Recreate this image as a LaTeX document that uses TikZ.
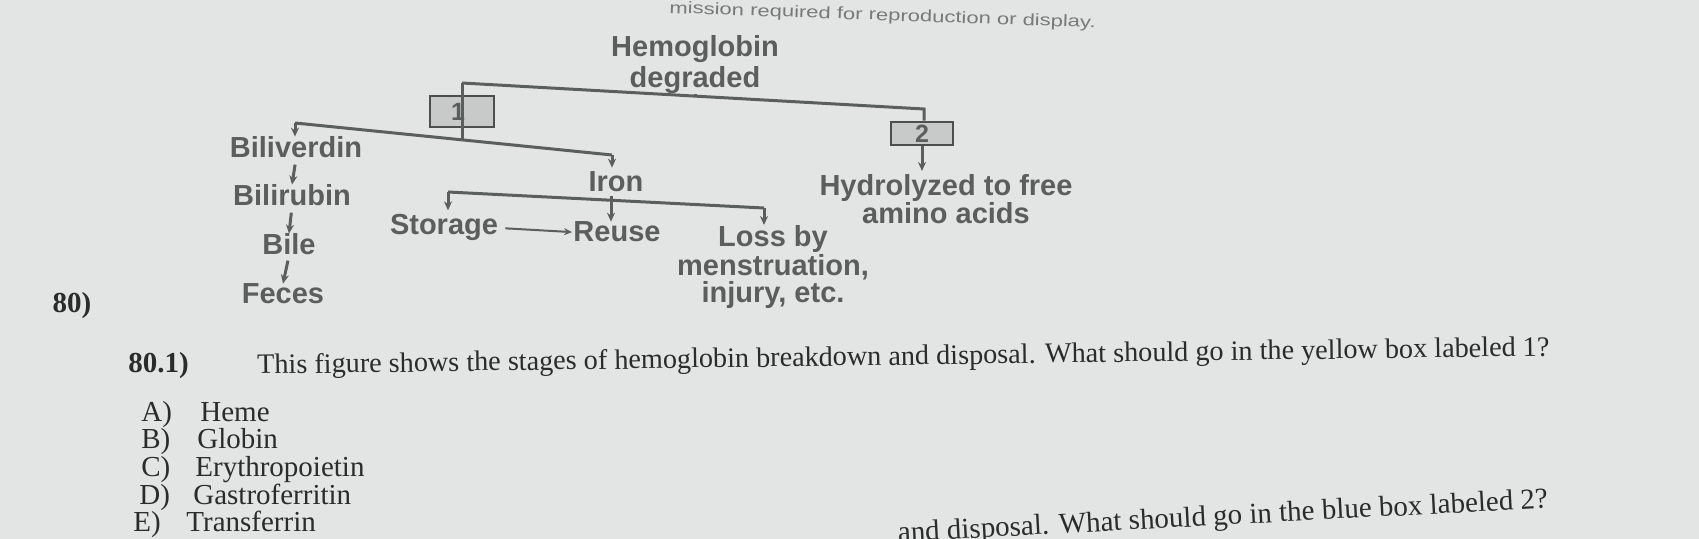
\documentclass[tikz,border=0pt]{standalone}
\usepackage{fontspec}
\setmainfont{Liberation Serif}
\newfontfamily\dsans{Liberation Sans}
\usetikzlibrary{arrows.meta}
\definecolor{bg}{HTML}{E2E5E3}
\definecolor{dgray}{HTML}{5A5E5D}
\definecolor{boxfill}{HTML}{C7CAC8}
\definecolor{boxline}{HTML}{4C4F4E}
\definecolor{qtext}{HTML}{2A2B2B}
\definecolor{ftext}{HTML}{767A79}
\begin{document}
\begin{tikzpicture}[x=0.5pt,y=-0.5pt,
  lbl/.style={font=\dsans\bfseries\fontsize{14.5}{14}\selectfont, text=dgray, inner sep=0pt, align=center},
  conn/.style={draw=dgray, line width=1.5pt},
  arr/.style={conn, -{Stealth[length=4.5pt,width=4pt]}},
  thinarr/.style={draw=dgray, line width=1pt, -{Stealth[length=4pt,width=3.5pt]}},
  numbox/.style={draw=boxline, fill=boxfill, line width=1.4pt, inner sep=0pt},
  numtxt/.style={font=\dsans\bfseries\fontsize{12.5}{14}\selectfont, text=dgray, inner sep=0pt},
  qt/.style={font=\fontsize{14.5}{16}\selectfont, text=qtext, inner sep=0pt},
  qb/.style={font=\bfseries\fontsize{14.5}{16}\selectfont, text=qtext, inner sep=0pt},
]
\useasboundingbox (0,0) rectangle (1699,539);
\clip (0,0) rectangle (1699,539);
\fill[bg] (0,0) rectangle (1699,539);

% top caption
\node[font=\dsans\fontsize{11}{12}\selectfont, text=ftext, inner sep=0pt, anchor=base west, rotate=-2]
  (copy) at (669,13) {\scalebox{1}[0.75]{mission required for reproduction or display.}};

% labels
\node[lbl, font=\dsans\bfseries\fontsize{14.5}{15.5}\selectfont, anchor=north] (hb) at (695,35) {Hemoglobin\\degraded};
\node[numbox, minimum width=32pt, minimum height=15.5pt] (box1) at (462,111.5) {};
\node[numbox, minimum width=31pt, minimum height=11.5pt] (box2) at (922,133.5) {};

\node[lbl, anchor=base] (bili) at (296,158) {Biliverdin};
\node[lbl, anchor=base] (bilir) at (292,206) {Bilirubin};
\node[lbl, anchor=base] (bile) at (289,255) {Bile};
\node[lbl, anchor=base] (feces) at (283,304) {Feces};

\node[lbl, anchor=base] (iron) at (616,192) {Iron};
\node[lbl, anchor=base] (stor) at (444,235) {Storage};
\node[lbl, anchor=base] (reuse) at (617,242) {Reuse};
\node[lbl, font=\dsans\bfseries\fontsize{14.5}{13.5}\selectfont, anchor=north] (loss) at (773,225) {Loss by\\menstruation,\\injury, etc.};
\node[lbl, anchor=north] (hyd) at (946,174) {Hydrolyzed to free\\amino acids};

% bracket coordinates
\coordinate (tl) at (462,83);
\coordinate (tr) at (924,109);
\coordinate (t0) at (695,97);
\coordinate (cL2) at (295,123);
\coordinate (cR2) at (612,155);
\coordinate (j2) at (462,140);
\coordinate (cL3) at (448,192);
\coordinate (cR3) at (764,208);
\coordinate (m3) at (611,200);

% connectors
\draw[conn] (hb.south) -- (hb.south |- t0);
\draw[conn] (tl) -- (tr) -- (tr |- box2.north);
\draw[conn] (tl) -- (j2);
\draw[conn] (cL2) -- (cR2);
\draw[arr] (cL2) -- (cL2 |- bili.north);
\draw[arr] (cR2) -- ([yshift=2pt]cR2 |- iron.north);
\draw[arr, shorten >=1.5pt] (box2.south) -- (box2.south |- hyd.north);

% box numbers
\node[numtxt] (n1) at (458,112) {1};
\node[numtxt] (n2) at (922,134) {2};

\draw[arr, shorten <=3pt] (bili.south) -- (bilir.north);
\draw[arr, shorten <=3pt] (bilir.south) -- (bile.north);
\draw[arr, shorten <=2.5pt] (bile.south) -- (feces.north);

\draw[conn] (cL3) -- (cR3);
\draw[arr, shorten >=2pt] (cL3) -- (cL3 |- stor.north);
\draw[arr] (cR3) -- (cR3 |- loss.north);
\draw[arr, shorten <=1.5pt] (iron.south -| m3) -- (m3 |- reuse.north);
\draw[thinarr, shorten <=3.5pt, shorten >=0.5pt] (stor.east) -- (reuse.west);

% question text
\node[qb, anchor=base] (q80) at (72,313) {80)};
\node[qb, anchor=base west] (q801) at (128,373) {80.1)};
\node[qt, font=\fontsize{14.1}{16}\selectfont, anchor=base west, rotate=0.8] (q1) at (257,374)
  {This figure shows the stages of hemoglobin breakdown and disposal. What should go in the yellow box labeled 1?};
\node[qt, anchor=base west] (ansA) at (141,422) {\makebox[29.5pt][l]{A)}Heme};
\node[qt, anchor=base west] (ansB) at (141,449) {\makebox[28pt][l]{B)}Globin};
\node[qt, anchor=base west] (ansC) at (141,477) {\makebox[27pt][l]{C)}Erythropoietin};
\node[qt, anchor=base west] (ansD) at (139,505) {\makebox[27pt][l]{D)}Gastroferritin};
\node[qt, anchor=base west] (ansE) at (133,532) {\makebox[26.5pt][l]{E)}Transferrin};
\node[qt, anchor=base west, rotate=3] (q2) at (898,542)
  {and disposal. What should go in the blue box labeled 2?};
\end{tikzpicture}
\end{document}
